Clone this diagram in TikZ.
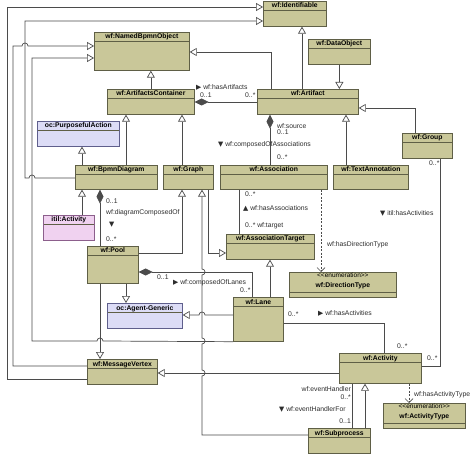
\documentclass[tikz,border=0pt]{standalone}
\usepackage{fontspec}
\setmainfont{Liberation Sans}
\newfontfamily\symfont{DejaVu Sans}
\usetikzlibrary{arrows.meta}
\definecolor{clsfill}{RGB}{201,199,153}
\definecolor{clsline}{RGB}{95,95,70}
\definecolor{ontfill}{RGB}{220,220,246}
\definecolor{ontline}{RGB}{95,95,140}
\definecolor{itilfill}{RGB}{240,210,240}
\definecolor{itilline}{RGB}{140,95,140}
\definecolor{wire}{RGB}{75,75,75}
\definecolor{txt}{RGB}{45,45,45}
\tikzstyle{line} = [draw=wire, line width=0.7pt]
\tikzstyle{gen} = [line, -{Triangle[open, length=7pt, width=8pt]}]
\tikzstyle{comp} = [line, {Diamond[length=14pt, width=7pt]}-]
\tikzstyle{dep} = [line, dash pattern=on 2pt off 1.5pt, -{Straight Barb[length=4pt, width=8pt]}]
\tikzstyle{cls} = [draw=clsline, fill=clsfill, line width=0.7pt, anchor=north west, inner sep=0pt, path picture={\draw[clsline, line width=0.7pt] ([yshift=-9pt]path picture bounding box.north west) -- ([yshift=-9pt]path picture bounding box.north east);}]
\tikzstyle{ont} = [cls, draw=ontline, fill=ontfill]
\tikzstyle{itil} = [cls, draw=itilline, fill=itilfill]
\tikzstyle{enum} = [cls, path picture={\draw[clsline, line width=0.7pt] ([yshift=-20pt]path picture bounding box.north west) -- ([yshift=-20pt]path picture bounding box.north east);}]
\tikzstyle{head} = [anchor=base, yshift=-7pt, inner sep=0pt, font=\bfseries\fontsize{6.8}{8}\selectfont]
\tikzstyle{enumhead} = [anchor=north, yshift=-1pt, inner sep=0pt, align=center, font=\bfseries\fontsize{6.8}{9.6}\selectfont]
\tikzstyle{lbl} = [anchor=west, inner sep=0pt, text=txt, font=\fontsize{6.8}{8}\selectfont]
\tikzstyle{lblr} = [lbl, anchor=east]

\begin{document}
\begin{tikzpicture}[x=1pt, y=-1pt]
        \path[use as bounding box, fill=white] (0,0) rectangle (474,457);
        \node[cls, minimum width=63, minimum height=25, label={[head]north:{wf:Identifiable}}] (ident) at (263,1) {};
        \node[cls, minimum width=95, minimum height=38, label={[head]north:{wf:NamedBpmnObject}}] (named) at (94,32) {};
        \node[cls, minimum width=62, minimum height=25, label={[head]north:{wf:DataObject}}] (dataobj) at (308,39) {};
        \node[cls, minimum width=87, minimum height=25, label={[head]north:{wf:ArtifactsContainer}}] (artcont) at (107,89) {};
        \node[cls, minimum width=101, minimum height=25, label={[head]north:{wf:Artifact}}] (artifact) at (257,89) {};
        \node[ont, minimum width=82, minimum height=25, label={[head]north:{oc:PurposefulAction}}] (purpose) at (37,121) {};
        \node[cls, minimum width=50, minimum height=25, label={[head]north:{wf:Group}}] (group) at (402,133) {};
        \node[cls, minimum width=82, minimum height=24, label={[head]north:{wf:BpmnDiagram}}] (diagram) at (75,165) {};
        \node[cls, minimum width=50, minimum height=24, label={[head]north:{wf:Graph}}] (graph) at (163,165) {};
        \node[cls, minimum width=107, minimum height=24, label={[head]north:{wf:Association}}] (assoc) at (220,165) {};
        \node[cls, minimum width=75, minimum height=24, label={[head]north:{wf:TextAnnotation}}] (textann) at (333,165) {};
        \node[itil, minimum width=51, minimum height=25, label={[head]north:{itil:Activity}}] (itilact) at (43,215) {};
        \node[cls, minimum width=88, minimum height=25, label={[head]north:{wf:AssociationTarget}}] (assoctgt) at (226,234) {};
        \node[cls, minimum width=51, minimum height=37, label={[head]north:{wf:Pool}}] (pool) at (87,246) {};
        \node[enum, minimum width=107, minimum height=25, label={[enumhead]north:{{\mdseries\fontsize{6.5}{9.6}\selectfont <\kern0pt<enumeration>\kern0pt>}\\wf:DirectionType}}] (dirtype) at (289,272) {};
        \node[cls, minimum width=50, minimum height=44, label={[head]north:{wf:Lane}}] (lane) at (233,297) {};
        \node[ont, minimum width=75, minimum height=25, label={[head]north:{oc:Agent-Generic}}] (agent) at (107,303) {};
        \node[cls, minimum width=70, minimum height=25, label={[head]north:{wf:MessageVertex}}] (mv) at (87,359) {};
        \node[cls, minimum width=82, minimum height=30, label={[head]north:{wf:Activity}}] (activity) at (339,353) {};
        \node[enum, minimum width=82, minimum height=25, label={[enumhead]north:{{\mdseries\fontsize{6.5}{9.6}\selectfont <\kern0pt<enumeration>\kern0pt>}\\wf:ActivityType}}] (acttype) at (383,403) {};
        \node[cls, minimum width=62, minimum height=25, label={[head]north:{wf:Subprocess}}] (subproc) at (308,428) {};

        \path[gen] (mv.west |- 0,379) -| (7,7) -- (ident.west |- 0,7);
        \path[gen] (mv.west |- 0,366) -| (13,46) -- (22,46) arc[start angle=180, end angle=360, radius=3] -- (named.west |- 0,46);
        \path[gen] (diagram.west |- 0,178) -- (35,178) arc[start angle=0, end angle=-180, radius=3] -- (25,178) |- (ident.west |- 0,21);
        \path[gen] (lane.south west) -- (103,341) arc[start angle=0, end angle=-180, radius=3] -- (32,341) |- (named.west |- 0,58);
        \path[gen] (artcont.north) -- (artcont.north |- named.south);
        \path[gen] (artifact.north -| 271,0) |- (named.east |- 0,52);
        \path[gen] (artifact.north -| 302,0) -- (ident.south -| 302,0);
        \path[gen] (dataobj.south) -- (dataobj.south |- artifact.north);
        \path[gen] (textann.north -| 346,0) -- (artifact.south -| 346,0);
        \path[gen] (group.north -| 415,0) |- (artifact.east |- 0,108);
        \path[comp] (artcont.east |- 0,102) -- (artifact.west |- 0,102);
        \path[comp] (artifact.south -| 270,0) -- (assoc.north -| 270,0);
        \path[gen] (diagram.north -| 82,0) -- (purpose.south -| 82,0);
        \path[gen] (itilact.north -| 82,0) -- (diagram.south -| 82,0);
        \path[gen] (diagram.north -| 126,0) -- (artcont.south -| 126,0);
        \path[gen] (graph.north -| 182,0) -- (artcont.south -| 182,0);
        \path[comp] (diagram.south -| 100,0) -- (pool.north -| 100,0);
        \path[gen] (pool.east |- 0,253) -| (graph.south -| 182,0);
        \path[gen] (graph.south -| 208,0) |- (assoctgt.west |- 0,253);
        \path[gen] (subproc.west |- 0,435) -- (202,435) -- (202,376) arc[start angle=90, end angle=-90, radius=3] -- (202,344) arc[start angle=90, end angle=-90, radius=3] -- (202,275) arc[start angle=90, end angle=-90, radius=3] -- (graph.south -| 202,0);
        \path[comp] (pool.east |- 0,272) -| (lane.north -| 252,0);
        \path[gen] (pool.south -| 126,0) -- (agent.north -| 126,0);
        \path[gen] (pool.south -| 100,0) -- (mv.north -| 100,0);
        \path[gen] (lane.west |- 0,315) -- (205,315) arc[start angle=0, end angle=-180, radius=3] -- (agent.east |- 0,315);
        \path[gen] (lane.north -| 270,0) -- (assoctgt.south -| 270,0);
        \path[line] (assoc.south -| 239,0) -- (assoctgt.north -| 239,0);
        \path[dep] (assoc.south -| 321,0) -- (dirtype.north -| 321,0);
        \path[line] (lane.east |- 0,323) -| (activity.north -| 384,0);
        \path[line] (group.south -| 440,0) |- (activity.east |- 0,366);
        \path[gen] (activity.west |- 0,373) -- (mv.east |- 0,373);
        \path[dep] (activity.south -| 409,0) -- (acttype.north -| 409,0);
        \path[gen] (subproc.north -| 365,0) -- (activity.south -| 365,0);
        \path[line] (subproc.north -| 352,0) -- (activity.south -| 352,0);

        \node[lbl] (hasart) at (196,87) {{\symfont ▶} wf:hasArtifacts};
        \node[lbl] (hasartsrc) at (200,95) {0..1};
        \node[lbl] (hasartdst) at (245,95) {0..*};
        \node[lbl] (srcrole) at (277,126) {wf:source};
        \node[lbl] (srcmult) at (277,132.5) {0..1};
        \node[lbl] (compassoc) at (218,145) {{\symfont ▼} wf:composedOfAssociations};
        \node[lbl] (compassocmult) at (277,157) {0..*};
        \node[lbl] (hasassocmult) at (245,194) {0..*};
        \node[lbl] (hasassoc) at (243,208) {{\symfont ▲} wf:hasAssociations};
        \node[lbl] (target) at (245,226) {0..* wf:target};
        \node[lbl] (hasdir) at (327,245) {wf:hasDirectionType};
        \node[lbl] (itilhasact) at (380,213) {{\symfont ▼} itil:hasActivities};
        \node[lbl] (groupmult) at (429,163) {0..*};
        \node[lbl] (diagmult) at (106,201) {0..1};
        \node[lbl] (diagcomp) at (106,213) {wf:diagramComposedOf};
        \node[lbl] (diagdir) at (109,225) {\symfont ▼};
        \node[lbl] (poolmult) at (106,239) {0..*};
        \node[lbl] (lanesrc) at (157,277) {0..1};
        \node[lbl] (complanes) at (173,283) {{\symfont ▶} wf:composedOfLanes};
        \node[lbl] (lanedst) at (240,290) {0..*};
        \node[lbl] (laneactsrc) at (288,314) {0..*};
        \node[lbl] (laneact) at (318,313) {{\symfont ▶} wf:hasActivities};
        \node[lbl] (laneactdst) at (397,346) {0..*};
        \node[lbl] (groupactdst) at (427,358) {0..*};
        \node[lblr] (evhandler) at (351,389) {wf:eventHandler};
        \node[lblr] (evhandlermult) at (351,397) {0..*};
        \node[lbl] (evhandlerfor) at (279,409) {{\symfont ▼} wf:eventHandlerFor};
        \node[lblr] (evhandlerformult) at (351,421) {0..1};
        \node[lbl] (hasacttype) at (414,395) {wf:hasActivityType};
    \end{tikzpicture}
\end{document}
